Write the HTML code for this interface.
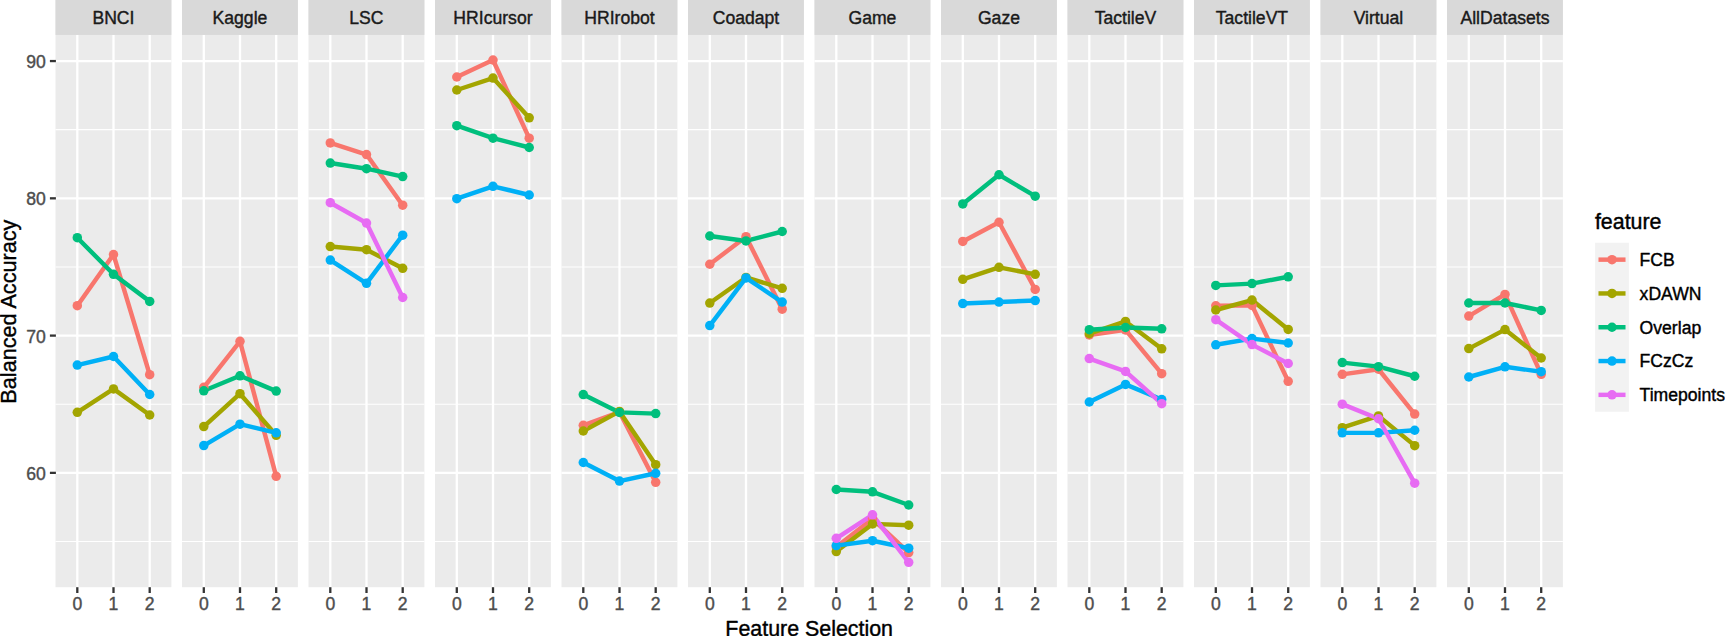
<!DOCTYPE html><html><head><meta charset="utf-8"><title>Balanced Accuracy by Feature Selection</title>
<style>html,body{margin:0;padding:0;background:#fff;overflow:hidden}svg{display:block}text{font-family:"Liberation Sans",Arial,Helvetica,sans-serif;stroke-width:0.4px;stroke-linejoin:round}.k{stroke:#000}.g{stroke:#4D4D4D}.s{stroke:#1A1A1A}</style></head><body>
<svg width="1725" height="636" viewBox="0 0 1725 636">
<rect width="1725" height="636" fill="#fff"/>
<g>
<rect x="55.50" y="0" width="115.9" height="587.20" fill="#EBEBEB"/>
<line x1="55.50" x2="171.40" y1="541.50" y2="541.50" stroke="#fff" stroke-width="1.15"/>
<line x1="55.50" x2="171.40" y1="404.24" y2="404.24" stroke="#fff" stroke-width="1.15"/>
<line x1="55.50" x2="171.40" y1="266.97" y2="266.97" stroke="#fff" stroke-width="1.15"/>
<line x1="55.50" x2="171.40" y1="129.69" y2="129.69" stroke="#fff" stroke-width="1.15"/>
<line x1="55.50" x2="171.40" y1="472.87" y2="472.87" stroke="#fff" stroke-width="2.3"/>
<line x1="55.50" x2="171.40" y1="335.60" y2="335.60" stroke="#fff" stroke-width="2.3"/>
<line x1="55.50" x2="171.40" y1="198.33" y2="198.33" stroke="#fff" stroke-width="2.3"/>
<line x1="55.50" x2="171.40" y1="61.06" y2="61.06" stroke="#fff" stroke-width="2.3"/>
<line x1="77.30" x2="77.30" y1="34.9" y2="587.2" stroke="#fff" stroke-width="2.3"/>
<line x1="77.30" x2="77.30" y1="587.2" y2="593.00" stroke="#333" stroke-width="2.3"/>
<text x="77.30" y="609.9" font-size="17.6" class="g" fill="#4D4D4D" text-anchor="middle">0</text>
<line x1="113.50" x2="113.50" y1="34.9" y2="587.2" stroke="#fff" stroke-width="2.3"/>
<line x1="113.50" x2="113.50" y1="587.2" y2="593.00" stroke="#333" stroke-width="2.3"/>
<text x="113.50" y="609.9" font-size="17.6" class="g" fill="#4D4D4D" text-anchor="middle">1</text>
<line x1="149.70" x2="149.70" y1="34.9" y2="587.2" stroke="#fff" stroke-width="2.3"/>
<line x1="149.70" x2="149.70" y1="587.2" y2="593.00" stroke="#333" stroke-width="2.3"/>
<text x="149.70" y="609.9" font-size="17.6" class="g" fill="#4D4D4D" text-anchor="middle">2</text>
<polyline points="77.30,305.70 113.50,254.50 149.70,374.70" fill="none" stroke="#F8766D" stroke-width="4.45" stroke-linejoin="round" stroke-linecap="butt"/>
<polyline points="77.30,412.30 113.50,388.90 149.70,415.00" fill="none" stroke="#A3A500" stroke-width="4.45" stroke-linejoin="round" stroke-linecap="butt"/>
<polyline points="77.30,237.70 113.50,274.30 149.70,301.40" fill="none" stroke="#00BF7D" stroke-width="4.45" stroke-linejoin="round" stroke-linecap="butt"/>
<polyline points="77.30,365.10 113.50,356.50 149.70,394.50" fill="none" stroke="#00B0F6" stroke-width="4.45" stroke-linejoin="round" stroke-linecap="butt"/>
<circle cx="77.30" cy="305.70" r="4.75" fill="#F8766D"/>
<circle cx="113.50" cy="254.50" r="4.75" fill="#F8766D"/>
<circle cx="149.70" cy="374.70" r="4.75" fill="#F8766D"/>
<circle cx="77.30" cy="412.30" r="4.75" fill="#A3A500"/>
<circle cx="113.50" cy="388.90" r="4.75" fill="#A3A500"/>
<circle cx="149.70" cy="415.00" r="4.75" fill="#A3A500"/>
<circle cx="77.30" cy="237.70" r="4.75" fill="#00BF7D"/>
<circle cx="113.50" cy="274.30" r="4.75" fill="#00BF7D"/>
<circle cx="149.70" cy="301.40" r="4.75" fill="#00BF7D"/>
<circle cx="77.30" cy="365.10" r="4.75" fill="#00B0F6"/>
<circle cx="113.50" cy="356.50" r="4.75" fill="#00B0F6"/>
<circle cx="149.70" cy="394.50" r="4.75" fill="#00B0F6"/>
<rect x="55.50" y="-2" width="115.9" height="36.9" fill="#D9D9D9"/>
<text x="113.45" y="23.9" font-size="17.6" class="s" fill="#1A1A1A" text-anchor="middle">BNCI</text>
</g>
<g>
<rect x="182.00" y="0" width="115.9" height="587.20" fill="#EBEBEB"/>
<line x1="182.00" x2="297.90" y1="541.50" y2="541.50" stroke="#fff" stroke-width="1.15"/>
<line x1="182.00" x2="297.90" y1="404.24" y2="404.24" stroke="#fff" stroke-width="1.15"/>
<line x1="182.00" x2="297.90" y1="266.97" y2="266.97" stroke="#fff" stroke-width="1.15"/>
<line x1="182.00" x2="297.90" y1="129.69" y2="129.69" stroke="#fff" stroke-width="1.15"/>
<line x1="182.00" x2="297.90" y1="472.87" y2="472.87" stroke="#fff" stroke-width="2.3"/>
<line x1="182.00" x2="297.90" y1="335.60" y2="335.60" stroke="#fff" stroke-width="2.3"/>
<line x1="182.00" x2="297.90" y1="198.33" y2="198.33" stroke="#fff" stroke-width="2.3"/>
<line x1="182.00" x2="297.90" y1="61.06" y2="61.06" stroke="#fff" stroke-width="2.3"/>
<line x1="203.80" x2="203.80" y1="34.9" y2="587.2" stroke="#fff" stroke-width="2.3"/>
<line x1="203.80" x2="203.80" y1="587.2" y2="593.00" stroke="#333" stroke-width="2.3"/>
<text x="203.80" y="609.9" font-size="17.6" class="g" fill="#4D4D4D" text-anchor="middle">0</text>
<line x1="240.00" x2="240.00" y1="34.9" y2="587.2" stroke="#fff" stroke-width="2.3"/>
<line x1="240.00" x2="240.00" y1="587.2" y2="593.00" stroke="#333" stroke-width="2.3"/>
<text x="240.00" y="609.9" font-size="17.6" class="g" fill="#4D4D4D" text-anchor="middle">1</text>
<line x1="276.20" x2="276.20" y1="34.9" y2="587.2" stroke="#fff" stroke-width="2.3"/>
<line x1="276.20" x2="276.20" y1="587.2" y2="593.00" stroke="#333" stroke-width="2.3"/>
<text x="276.20" y="609.9" font-size="17.6" class="g" fill="#4D4D4D" text-anchor="middle">2</text>
<polyline points="203.80,387.30 240.00,341.35 276.20,476.30" fill="none" stroke="#F8766D" stroke-width="4.45" stroke-linejoin="round" stroke-linecap="butt"/>
<polyline points="203.80,426.60 240.00,393.70 276.20,435.30" fill="none" stroke="#A3A500" stroke-width="4.45" stroke-linejoin="round" stroke-linecap="butt"/>
<polyline points="203.80,390.80 240.00,375.80 276.20,391.10" fill="none" stroke="#00BF7D" stroke-width="4.45" stroke-linejoin="round" stroke-linecap="butt"/>
<polyline points="203.80,445.60 240.00,424.20 276.20,432.80" fill="none" stroke="#00B0F6" stroke-width="4.45" stroke-linejoin="round" stroke-linecap="butt"/>
<circle cx="203.80" cy="387.30" r="4.75" fill="#F8766D"/>
<circle cx="240.00" cy="341.35" r="4.75" fill="#F8766D"/>
<circle cx="276.20" cy="476.30" r="4.75" fill="#F8766D"/>
<circle cx="203.80" cy="426.60" r="4.75" fill="#A3A500"/>
<circle cx="240.00" cy="393.70" r="4.75" fill="#A3A500"/>
<circle cx="276.20" cy="435.30" r="4.75" fill="#A3A500"/>
<circle cx="203.80" cy="390.80" r="4.75" fill="#00BF7D"/>
<circle cx="240.00" cy="375.80" r="4.75" fill="#00BF7D"/>
<circle cx="276.20" cy="391.10" r="4.75" fill="#00BF7D"/>
<circle cx="203.80" cy="445.60" r="4.75" fill="#00B0F6"/>
<circle cx="240.00" cy="424.20" r="4.75" fill="#00B0F6"/>
<circle cx="276.20" cy="432.80" r="4.75" fill="#00B0F6"/>
<rect x="182.00" y="-2" width="115.9" height="36.9" fill="#D9D9D9"/>
<text x="239.95" y="23.9" font-size="17.6" class="s" fill="#1A1A1A" text-anchor="middle">Kaggle</text>
</g>
<g>
<rect x="308.50" y="0" width="115.9" height="587.20" fill="#EBEBEB"/>
<line x1="308.50" x2="424.40" y1="541.50" y2="541.50" stroke="#fff" stroke-width="1.15"/>
<line x1="308.50" x2="424.40" y1="404.24" y2="404.24" stroke="#fff" stroke-width="1.15"/>
<line x1="308.50" x2="424.40" y1="266.97" y2="266.97" stroke="#fff" stroke-width="1.15"/>
<line x1="308.50" x2="424.40" y1="129.69" y2="129.69" stroke="#fff" stroke-width="1.15"/>
<line x1="308.50" x2="424.40" y1="472.87" y2="472.87" stroke="#fff" stroke-width="2.3"/>
<line x1="308.50" x2="424.40" y1="335.60" y2="335.60" stroke="#fff" stroke-width="2.3"/>
<line x1="308.50" x2="424.40" y1="198.33" y2="198.33" stroke="#fff" stroke-width="2.3"/>
<line x1="308.50" x2="424.40" y1="61.06" y2="61.06" stroke="#fff" stroke-width="2.3"/>
<line x1="330.30" x2="330.30" y1="34.9" y2="587.2" stroke="#fff" stroke-width="2.3"/>
<line x1="330.30" x2="330.30" y1="587.2" y2="593.00" stroke="#333" stroke-width="2.3"/>
<text x="330.30" y="609.9" font-size="17.6" class="g" fill="#4D4D4D" text-anchor="middle">0</text>
<line x1="366.50" x2="366.50" y1="34.9" y2="587.2" stroke="#fff" stroke-width="2.3"/>
<line x1="366.50" x2="366.50" y1="587.2" y2="593.00" stroke="#333" stroke-width="2.3"/>
<text x="366.50" y="609.9" font-size="17.6" class="g" fill="#4D4D4D" text-anchor="middle">1</text>
<line x1="402.70" x2="402.70" y1="34.9" y2="587.2" stroke="#fff" stroke-width="2.3"/>
<line x1="402.70" x2="402.70" y1="587.2" y2="593.00" stroke="#333" stroke-width="2.3"/>
<text x="402.70" y="609.9" font-size="17.6" class="g" fill="#4D4D4D" text-anchor="middle">2</text>
<polyline points="330.30,142.95 366.50,154.56 402.70,205.20" fill="none" stroke="#F8766D" stroke-width="4.45" stroke-linejoin="round" stroke-linecap="butt"/>
<polyline points="330.30,246.55 366.50,249.70 402.70,268.30" fill="none" stroke="#A3A500" stroke-width="4.45" stroke-linejoin="round" stroke-linecap="butt"/>
<polyline points="330.30,163.05 366.50,168.70 402.70,176.60" fill="none" stroke="#00BF7D" stroke-width="4.45" stroke-linejoin="round" stroke-linecap="butt"/>
<polyline points="330.30,260.10 366.50,283.30 402.70,235.20" fill="none" stroke="#00B0F6" stroke-width="4.45" stroke-linejoin="round" stroke-linecap="butt"/>
<polyline points="330.30,202.70 366.50,223.05 402.70,297.50" fill="none" stroke="#E76BF3" stroke-width="4.45" stroke-linejoin="round" stroke-linecap="butt"/>
<circle cx="330.30" cy="142.95" r="4.75" fill="#F8766D"/>
<circle cx="366.50" cy="154.56" r="4.75" fill="#F8766D"/>
<circle cx="402.70" cy="205.20" r="4.75" fill="#F8766D"/>
<circle cx="330.30" cy="246.55" r="4.75" fill="#A3A500"/>
<circle cx="366.50" cy="249.70" r="4.75" fill="#A3A500"/>
<circle cx="402.70" cy="268.30" r="4.75" fill="#A3A500"/>
<circle cx="330.30" cy="163.05" r="4.75" fill="#00BF7D"/>
<circle cx="366.50" cy="168.70" r="4.75" fill="#00BF7D"/>
<circle cx="402.70" cy="176.60" r="4.75" fill="#00BF7D"/>
<circle cx="330.30" cy="260.10" r="4.75" fill="#00B0F6"/>
<circle cx="366.50" cy="283.30" r="4.75" fill="#00B0F6"/>
<circle cx="402.70" cy="235.20" r="4.75" fill="#00B0F6"/>
<circle cx="330.30" cy="202.70" r="4.75" fill="#E76BF3"/>
<circle cx="366.50" cy="223.05" r="4.75" fill="#E76BF3"/>
<circle cx="402.70" cy="297.50" r="4.75" fill="#E76BF3"/>
<rect x="308.50" y="-2" width="115.9" height="36.9" fill="#D9D9D9"/>
<text x="366.45" y="23.9" font-size="17.6" class="s" fill="#1A1A1A" text-anchor="middle">LSC</text>
</g>
<g>
<rect x="435.00" y="0" width="115.9" height="587.20" fill="#EBEBEB"/>
<line x1="435.00" x2="550.90" y1="541.50" y2="541.50" stroke="#fff" stroke-width="1.15"/>
<line x1="435.00" x2="550.90" y1="404.24" y2="404.24" stroke="#fff" stroke-width="1.15"/>
<line x1="435.00" x2="550.90" y1="266.97" y2="266.97" stroke="#fff" stroke-width="1.15"/>
<line x1="435.00" x2="550.90" y1="129.69" y2="129.69" stroke="#fff" stroke-width="1.15"/>
<line x1="435.00" x2="550.90" y1="472.87" y2="472.87" stroke="#fff" stroke-width="2.3"/>
<line x1="435.00" x2="550.90" y1="335.60" y2="335.60" stroke="#fff" stroke-width="2.3"/>
<line x1="435.00" x2="550.90" y1="198.33" y2="198.33" stroke="#fff" stroke-width="2.3"/>
<line x1="435.00" x2="550.90" y1="61.06" y2="61.06" stroke="#fff" stroke-width="2.3"/>
<line x1="456.80" x2="456.80" y1="34.9" y2="587.2" stroke="#fff" stroke-width="2.3"/>
<line x1="456.80" x2="456.80" y1="587.2" y2="593.00" stroke="#333" stroke-width="2.3"/>
<text x="456.80" y="609.9" font-size="17.6" class="g" fill="#4D4D4D" text-anchor="middle">0</text>
<line x1="493.00" x2="493.00" y1="34.9" y2="587.2" stroke="#fff" stroke-width="2.3"/>
<line x1="493.00" x2="493.00" y1="587.2" y2="593.00" stroke="#333" stroke-width="2.3"/>
<text x="493.00" y="609.9" font-size="17.6" class="g" fill="#4D4D4D" text-anchor="middle">1</text>
<line x1="529.20" x2="529.20" y1="34.9" y2="587.2" stroke="#fff" stroke-width="2.3"/>
<line x1="529.20" x2="529.20" y1="587.2" y2="593.00" stroke="#333" stroke-width="2.3"/>
<text x="529.20" y="609.9" font-size="17.6" class="g" fill="#4D4D4D" text-anchor="middle">2</text>
<polyline points="456.80,77.00 493.00,60.00 529.20,138.15" fill="none" stroke="#F8766D" stroke-width="4.45" stroke-linejoin="round" stroke-linecap="butt"/>
<polyline points="456.80,90.00 493.00,78.10 529.20,117.80" fill="none" stroke="#A3A500" stroke-width="4.45" stroke-linejoin="round" stroke-linecap="butt"/>
<polyline points="456.80,125.70 493.00,138.15 529.20,147.50" fill="none" stroke="#00BF7D" stroke-width="4.45" stroke-linejoin="round" stroke-linecap="butt"/>
<polyline points="456.80,198.70 493.00,186.30 529.20,195.00" fill="none" stroke="#00B0F6" stroke-width="4.45" stroke-linejoin="round" stroke-linecap="butt"/>
<circle cx="456.80" cy="77.00" r="4.75" fill="#F8766D"/>
<circle cx="493.00" cy="60.00" r="4.75" fill="#F8766D"/>
<circle cx="529.20" cy="138.15" r="4.75" fill="#F8766D"/>
<circle cx="456.80" cy="90.00" r="4.75" fill="#A3A500"/>
<circle cx="493.00" cy="78.10" r="4.75" fill="#A3A500"/>
<circle cx="529.20" cy="117.80" r="4.75" fill="#A3A500"/>
<circle cx="456.80" cy="125.70" r="4.75" fill="#00BF7D"/>
<circle cx="493.00" cy="138.15" r="4.75" fill="#00BF7D"/>
<circle cx="529.20" cy="147.50" r="4.75" fill="#00BF7D"/>
<circle cx="456.80" cy="198.70" r="4.75" fill="#00B0F6"/>
<circle cx="493.00" cy="186.30" r="4.75" fill="#00B0F6"/>
<circle cx="529.20" cy="195.00" r="4.75" fill="#00B0F6"/>
<rect x="435.00" y="-2" width="115.9" height="36.9" fill="#D9D9D9"/>
<text x="492.95" y="23.9" font-size="17.6" class="s" fill="#1A1A1A" text-anchor="middle">HRIcursor</text>
</g>
<g>
<rect x="561.50" y="0" width="115.9" height="587.20" fill="#EBEBEB"/>
<line x1="561.50" x2="677.40" y1="541.50" y2="541.50" stroke="#fff" stroke-width="1.15"/>
<line x1="561.50" x2="677.40" y1="404.24" y2="404.24" stroke="#fff" stroke-width="1.15"/>
<line x1="561.50" x2="677.40" y1="266.97" y2="266.97" stroke="#fff" stroke-width="1.15"/>
<line x1="561.50" x2="677.40" y1="129.69" y2="129.69" stroke="#fff" stroke-width="1.15"/>
<line x1="561.50" x2="677.40" y1="472.87" y2="472.87" stroke="#fff" stroke-width="2.3"/>
<line x1="561.50" x2="677.40" y1="335.60" y2="335.60" stroke="#fff" stroke-width="2.3"/>
<line x1="561.50" x2="677.40" y1="198.33" y2="198.33" stroke="#fff" stroke-width="2.3"/>
<line x1="561.50" x2="677.40" y1="61.06" y2="61.06" stroke="#fff" stroke-width="2.3"/>
<line x1="583.30" x2="583.30" y1="34.9" y2="587.2" stroke="#fff" stroke-width="2.3"/>
<line x1="583.30" x2="583.30" y1="587.2" y2="593.00" stroke="#333" stroke-width="2.3"/>
<text x="583.30" y="609.9" font-size="17.6" class="g" fill="#4D4D4D" text-anchor="middle">0</text>
<line x1="619.50" x2="619.50" y1="34.9" y2="587.2" stroke="#fff" stroke-width="2.3"/>
<line x1="619.50" x2="619.50" y1="587.2" y2="593.00" stroke="#333" stroke-width="2.3"/>
<text x="619.50" y="609.9" font-size="17.6" class="g" fill="#4D4D4D" text-anchor="middle">1</text>
<line x1="655.70" x2="655.70" y1="34.9" y2="587.2" stroke="#fff" stroke-width="2.3"/>
<line x1="655.70" x2="655.70" y1="587.2" y2="593.00" stroke="#333" stroke-width="2.3"/>
<text x="655.70" y="609.9" font-size="17.6" class="g" fill="#4D4D4D" text-anchor="middle">2</text>
<polyline points="583.30,425.30 619.50,412.00 655.70,482.30" fill="none" stroke="#F8766D" stroke-width="4.45" stroke-linejoin="round" stroke-linecap="butt"/>
<polyline points="583.30,431.00 619.50,411.40 655.70,464.70" fill="none" stroke="#A3A500" stroke-width="4.45" stroke-linejoin="round" stroke-linecap="butt"/>
<polyline points="583.30,394.60 619.50,412.40 655.70,413.60" fill="none" stroke="#00BF7D" stroke-width="4.45" stroke-linejoin="round" stroke-linecap="butt"/>
<polyline points="583.30,462.50 619.50,481.10 655.70,473.30" fill="none" stroke="#00B0F6" stroke-width="4.45" stroke-linejoin="round" stroke-linecap="butt"/>
<circle cx="583.30" cy="425.30" r="4.75" fill="#F8766D"/>
<circle cx="619.50" cy="412.00" r="4.75" fill="#F8766D"/>
<circle cx="655.70" cy="482.30" r="4.75" fill="#F8766D"/>
<circle cx="583.30" cy="431.00" r="4.75" fill="#A3A500"/>
<circle cx="619.50" cy="411.40" r="4.75" fill="#A3A500"/>
<circle cx="655.70" cy="464.70" r="4.75" fill="#A3A500"/>
<circle cx="583.30" cy="394.60" r="4.75" fill="#00BF7D"/>
<circle cx="619.50" cy="412.40" r="4.75" fill="#00BF7D"/>
<circle cx="655.70" cy="413.60" r="4.75" fill="#00BF7D"/>
<circle cx="583.30" cy="462.50" r="4.75" fill="#00B0F6"/>
<circle cx="619.50" cy="481.10" r="4.75" fill="#00B0F6"/>
<circle cx="655.70" cy="473.30" r="4.75" fill="#00B0F6"/>
<rect x="561.50" y="-2" width="115.9" height="36.9" fill="#D9D9D9"/>
<text x="619.45" y="23.9" font-size="17.6" class="s" fill="#1A1A1A" text-anchor="middle">HRIrobot</text>
</g>
<g>
<rect x="688.00" y="0" width="115.9" height="587.20" fill="#EBEBEB"/>
<line x1="688.00" x2="803.90" y1="541.50" y2="541.50" stroke="#fff" stroke-width="1.15"/>
<line x1="688.00" x2="803.90" y1="404.24" y2="404.24" stroke="#fff" stroke-width="1.15"/>
<line x1="688.00" x2="803.90" y1="266.97" y2="266.97" stroke="#fff" stroke-width="1.15"/>
<line x1="688.00" x2="803.90" y1="129.69" y2="129.69" stroke="#fff" stroke-width="1.15"/>
<line x1="688.00" x2="803.90" y1="472.87" y2="472.87" stroke="#fff" stroke-width="2.3"/>
<line x1="688.00" x2="803.90" y1="335.60" y2="335.60" stroke="#fff" stroke-width="2.3"/>
<line x1="688.00" x2="803.90" y1="198.33" y2="198.33" stroke="#fff" stroke-width="2.3"/>
<line x1="688.00" x2="803.90" y1="61.06" y2="61.06" stroke="#fff" stroke-width="2.3"/>
<line x1="709.80" x2="709.80" y1="34.9" y2="587.2" stroke="#fff" stroke-width="2.3"/>
<line x1="709.80" x2="709.80" y1="587.2" y2="593.00" stroke="#333" stroke-width="2.3"/>
<text x="709.80" y="609.9" font-size="17.6" class="g" fill="#4D4D4D" text-anchor="middle">0</text>
<line x1="746.00" x2="746.00" y1="34.9" y2="587.2" stroke="#fff" stroke-width="2.3"/>
<line x1="746.00" x2="746.00" y1="587.2" y2="593.00" stroke="#333" stroke-width="2.3"/>
<text x="746.00" y="609.9" font-size="17.6" class="g" fill="#4D4D4D" text-anchor="middle">1</text>
<line x1="782.20" x2="782.20" y1="34.9" y2="587.2" stroke="#fff" stroke-width="2.3"/>
<line x1="782.20" x2="782.20" y1="587.2" y2="593.00" stroke="#333" stroke-width="2.3"/>
<text x="782.20" y="609.9" font-size="17.6" class="g" fill="#4D4D4D" text-anchor="middle">2</text>
<polyline points="709.80,264.25 746.00,236.65 782.20,309.15" fill="none" stroke="#F8766D" stroke-width="4.45" stroke-linejoin="round" stroke-linecap="butt"/>
<polyline points="709.80,303.05 746.00,277.45 782.20,288.35" fill="none" stroke="#A3A500" stroke-width="4.45" stroke-linejoin="round" stroke-linecap="butt"/>
<polyline points="709.80,236.00 746.00,240.95 782.20,231.50" fill="none" stroke="#00BF7D" stroke-width="4.45" stroke-linejoin="round" stroke-linecap="butt"/>
<polyline points="709.80,325.55 746.00,277.90 782.20,302.05" fill="none" stroke="#00B0F6" stroke-width="4.45" stroke-linejoin="round" stroke-linecap="butt"/>
<circle cx="709.80" cy="264.25" r="4.75" fill="#F8766D"/>
<circle cx="746.00" cy="236.65" r="4.75" fill="#F8766D"/>
<circle cx="782.20" cy="309.15" r="4.75" fill="#F8766D"/>
<circle cx="709.80" cy="303.05" r="4.75" fill="#A3A500"/>
<circle cx="746.00" cy="277.45" r="4.75" fill="#A3A500"/>
<circle cx="782.20" cy="288.35" r="4.75" fill="#A3A500"/>
<circle cx="709.80" cy="236.00" r="4.75" fill="#00BF7D"/>
<circle cx="746.00" cy="240.95" r="4.75" fill="#00BF7D"/>
<circle cx="782.20" cy="231.50" r="4.75" fill="#00BF7D"/>
<circle cx="709.80" cy="325.55" r="4.75" fill="#00B0F6"/>
<circle cx="746.00" cy="277.90" r="4.75" fill="#00B0F6"/>
<circle cx="782.20" cy="302.05" r="4.75" fill="#00B0F6"/>
<rect x="688.00" y="-2" width="115.9" height="36.9" fill="#D9D9D9"/>
<text x="745.95" y="23.9" font-size="17.6" class="s" fill="#1A1A1A" text-anchor="middle">Coadapt</text>
</g>
<g>
<rect x="814.50" y="0" width="115.9" height="587.20" fill="#EBEBEB"/>
<line x1="814.50" x2="930.40" y1="541.50" y2="541.50" stroke="#fff" stroke-width="1.15"/>
<line x1="814.50" x2="930.40" y1="404.24" y2="404.24" stroke="#fff" stroke-width="1.15"/>
<line x1="814.50" x2="930.40" y1="266.97" y2="266.97" stroke="#fff" stroke-width="1.15"/>
<line x1="814.50" x2="930.40" y1="129.69" y2="129.69" stroke="#fff" stroke-width="1.15"/>
<line x1="814.50" x2="930.40" y1="472.87" y2="472.87" stroke="#fff" stroke-width="2.3"/>
<line x1="814.50" x2="930.40" y1="335.60" y2="335.60" stroke="#fff" stroke-width="2.3"/>
<line x1="814.50" x2="930.40" y1="198.33" y2="198.33" stroke="#fff" stroke-width="2.3"/>
<line x1="814.50" x2="930.40" y1="61.06" y2="61.06" stroke="#fff" stroke-width="2.3"/>
<line x1="836.30" x2="836.30" y1="34.9" y2="587.2" stroke="#fff" stroke-width="2.3"/>
<line x1="836.30" x2="836.30" y1="587.2" y2="593.00" stroke="#333" stroke-width="2.3"/>
<text x="836.30" y="609.9" font-size="17.6" class="g" fill="#4D4D4D" text-anchor="middle">0</text>
<line x1="872.50" x2="872.50" y1="34.9" y2="587.2" stroke="#fff" stroke-width="2.3"/>
<line x1="872.50" x2="872.50" y1="587.2" y2="593.00" stroke="#333" stroke-width="2.3"/>
<text x="872.50" y="609.9" font-size="17.6" class="g" fill="#4D4D4D" text-anchor="middle">1</text>
<line x1="908.70" x2="908.70" y1="34.9" y2="587.2" stroke="#fff" stroke-width="2.3"/>
<line x1="908.70" x2="908.70" y1="587.2" y2="593.00" stroke="#333" stroke-width="2.3"/>
<text x="908.70" y="609.9" font-size="17.6" class="g" fill="#4D4D4D" text-anchor="middle">2</text>
<polyline points="836.30,546.90 872.50,518.80 908.70,552.60" fill="none" stroke="#F8766D" stroke-width="4.45" stroke-linejoin="round" stroke-linecap="butt"/>
<polyline points="836.30,551.60 872.50,523.90 908.70,525.20" fill="none" stroke="#A3A500" stroke-width="4.45" stroke-linejoin="round" stroke-linecap="butt"/>
<polyline points="836.30,489.50 872.50,491.80 908.70,505.00" fill="none" stroke="#00BF7D" stroke-width="4.45" stroke-linejoin="round" stroke-linecap="butt"/>
<polyline points="836.30,545.60 872.50,540.70 908.70,548.20" fill="none" stroke="#00B0F6" stroke-width="4.45" stroke-linejoin="round" stroke-linecap="butt"/>
<polyline points="836.30,538.30 872.50,514.80 908.70,562.30" fill="none" stroke="#E76BF3" stroke-width="4.45" stroke-linejoin="round" stroke-linecap="butt"/>
<circle cx="836.30" cy="546.90" r="4.75" fill="#F8766D"/>
<circle cx="872.50" cy="518.80" r="4.75" fill="#F8766D"/>
<circle cx="908.70" cy="552.60" r="4.75" fill="#F8766D"/>
<circle cx="836.30" cy="551.60" r="4.75" fill="#A3A500"/>
<circle cx="872.50" cy="523.90" r="4.75" fill="#A3A500"/>
<circle cx="908.70" cy="525.20" r="4.75" fill="#A3A500"/>
<circle cx="836.30" cy="489.50" r="4.75" fill="#00BF7D"/>
<circle cx="872.50" cy="491.80" r="4.75" fill="#00BF7D"/>
<circle cx="908.70" cy="505.00" r="4.75" fill="#00BF7D"/>
<circle cx="836.30" cy="545.60" r="4.75" fill="#00B0F6"/>
<circle cx="872.50" cy="540.70" r="4.75" fill="#00B0F6"/>
<circle cx="908.70" cy="548.20" r="4.75" fill="#00B0F6"/>
<circle cx="836.30" cy="538.30" r="4.75" fill="#E76BF3"/>
<circle cx="872.50" cy="514.80" r="4.75" fill="#E76BF3"/>
<circle cx="908.70" cy="562.30" r="4.75" fill="#E76BF3"/>
<rect x="814.50" y="-2" width="115.9" height="36.9" fill="#D9D9D9"/>
<text x="872.45" y="23.9" font-size="17.6" class="s" fill="#1A1A1A" text-anchor="middle">Game</text>
</g>
<g>
<rect x="941.00" y="0" width="115.9" height="587.20" fill="#EBEBEB"/>
<line x1="941.00" x2="1056.90" y1="541.50" y2="541.50" stroke="#fff" stroke-width="1.15"/>
<line x1="941.00" x2="1056.90" y1="404.24" y2="404.24" stroke="#fff" stroke-width="1.15"/>
<line x1="941.00" x2="1056.90" y1="266.97" y2="266.97" stroke="#fff" stroke-width="1.15"/>
<line x1="941.00" x2="1056.90" y1="129.69" y2="129.69" stroke="#fff" stroke-width="1.15"/>
<line x1="941.00" x2="1056.90" y1="472.87" y2="472.87" stroke="#fff" stroke-width="2.3"/>
<line x1="941.00" x2="1056.90" y1="335.60" y2="335.60" stroke="#fff" stroke-width="2.3"/>
<line x1="941.00" x2="1056.90" y1="198.33" y2="198.33" stroke="#fff" stroke-width="2.3"/>
<line x1="941.00" x2="1056.90" y1="61.06" y2="61.06" stroke="#fff" stroke-width="2.3"/>
<line x1="962.80" x2="962.80" y1="34.9" y2="587.2" stroke="#fff" stroke-width="2.3"/>
<line x1="962.80" x2="962.80" y1="587.2" y2="593.00" stroke="#333" stroke-width="2.3"/>
<text x="962.80" y="609.9" font-size="17.6" class="g" fill="#4D4D4D" text-anchor="middle">0</text>
<line x1="999.00" x2="999.00" y1="34.9" y2="587.2" stroke="#fff" stroke-width="2.3"/>
<line x1="999.00" x2="999.00" y1="587.2" y2="593.00" stroke="#333" stroke-width="2.3"/>
<text x="999.00" y="609.9" font-size="17.6" class="g" fill="#4D4D4D" text-anchor="middle">1</text>
<line x1="1035.20" x2="1035.20" y1="34.9" y2="587.2" stroke="#fff" stroke-width="2.3"/>
<line x1="1035.20" x2="1035.20" y1="587.2" y2="593.00" stroke="#333" stroke-width="2.3"/>
<text x="1035.20" y="609.9" font-size="17.6" class="g" fill="#4D4D4D" text-anchor="middle">2</text>
<polyline points="962.80,241.45 999.00,222.25 1035.20,289.45" fill="none" stroke="#F8766D" stroke-width="4.45" stroke-linejoin="round" stroke-linecap="butt"/>
<polyline points="962.80,279.35 999.00,267.35 1035.20,274.35" fill="none" stroke="#A3A500" stroke-width="4.45" stroke-linejoin="round" stroke-linecap="butt"/>
<polyline points="962.80,203.95 999.00,174.75 1035.20,196.15" fill="none" stroke="#00BF7D" stroke-width="4.45" stroke-linejoin="round" stroke-linecap="butt"/>
<polyline points="962.80,303.55 999.00,302.05 1035.20,300.55" fill="none" stroke="#00B0F6" stroke-width="4.45" stroke-linejoin="round" stroke-linecap="butt"/>
<circle cx="962.80" cy="241.45" r="4.75" fill="#F8766D"/>
<circle cx="999.00" cy="222.25" r="4.75" fill="#F8766D"/>
<circle cx="1035.20" cy="289.45" r="4.75" fill="#F8766D"/>
<circle cx="962.80" cy="279.35" r="4.75" fill="#A3A500"/>
<circle cx="999.00" cy="267.35" r="4.75" fill="#A3A500"/>
<circle cx="1035.20" cy="274.35" r="4.75" fill="#A3A500"/>
<circle cx="962.80" cy="203.95" r="4.75" fill="#00BF7D"/>
<circle cx="999.00" cy="174.75" r="4.75" fill="#00BF7D"/>
<circle cx="1035.20" cy="196.15" r="4.75" fill="#00BF7D"/>
<circle cx="962.80" cy="303.55" r="4.75" fill="#00B0F6"/>
<circle cx="999.00" cy="302.05" r="4.75" fill="#00B0F6"/>
<circle cx="1035.20" cy="300.55" r="4.75" fill="#00B0F6"/>
<rect x="941.00" y="-2" width="115.9" height="36.9" fill="#D9D9D9"/>
<text x="998.95" y="23.9" font-size="17.6" class="s" fill="#1A1A1A" text-anchor="middle">Gaze</text>
</g>
<g>
<rect x="1067.50" y="0" width="115.9" height="587.20" fill="#EBEBEB"/>
<line x1="1067.50" x2="1183.40" y1="541.50" y2="541.50" stroke="#fff" stroke-width="1.15"/>
<line x1="1067.50" x2="1183.40" y1="404.24" y2="404.24" stroke="#fff" stroke-width="1.15"/>
<line x1="1067.50" x2="1183.40" y1="266.97" y2="266.97" stroke="#fff" stroke-width="1.15"/>
<line x1="1067.50" x2="1183.40" y1="129.69" y2="129.69" stroke="#fff" stroke-width="1.15"/>
<line x1="1067.50" x2="1183.40" y1="472.87" y2="472.87" stroke="#fff" stroke-width="2.3"/>
<line x1="1067.50" x2="1183.40" y1="335.60" y2="335.60" stroke="#fff" stroke-width="2.3"/>
<line x1="1067.50" x2="1183.40" y1="198.33" y2="198.33" stroke="#fff" stroke-width="2.3"/>
<line x1="1067.50" x2="1183.40" y1="61.06" y2="61.06" stroke="#fff" stroke-width="2.3"/>
<line x1="1089.30" x2="1089.30" y1="34.9" y2="587.2" stroke="#fff" stroke-width="2.3"/>
<line x1="1089.30" x2="1089.30" y1="587.2" y2="593.00" stroke="#333" stroke-width="2.3"/>
<text x="1089.30" y="609.9" font-size="17.6" class="g" fill="#4D4D4D" text-anchor="middle">0</text>
<line x1="1125.50" x2="1125.50" y1="34.9" y2="587.2" stroke="#fff" stroke-width="2.3"/>
<line x1="1125.50" x2="1125.50" y1="587.2" y2="593.00" stroke="#333" stroke-width="2.3"/>
<text x="1125.50" y="609.9" font-size="17.6" class="g" fill="#4D4D4D" text-anchor="middle">1</text>
<line x1="1161.70" x2="1161.70" y1="34.9" y2="587.2" stroke="#fff" stroke-width="2.3"/>
<line x1="1161.70" x2="1161.70" y1="587.2" y2="593.00" stroke="#333" stroke-width="2.3"/>
<text x="1161.70" y="609.9" font-size="17.6" class="g" fill="#4D4D4D" text-anchor="middle">2</text>
<polyline points="1089.30,335.00 1125.50,329.90 1161.70,373.70" fill="none" stroke="#F8766D" stroke-width="4.45" stroke-linejoin="round" stroke-linecap="butt"/>
<polyline points="1089.30,333.70 1125.50,321.40 1161.70,348.80" fill="none" stroke="#A3A500" stroke-width="4.45" stroke-linejoin="round" stroke-linecap="butt"/>
<polyline points="1089.30,329.70 1125.50,327.50 1161.70,328.80" fill="none" stroke="#00BF7D" stroke-width="4.45" stroke-linejoin="round" stroke-linecap="butt"/>
<polyline points="1089.30,402.00 1125.50,384.40 1161.70,399.50" fill="none" stroke="#00B0F6" stroke-width="4.45" stroke-linejoin="round" stroke-linecap="butt"/>
<polyline points="1089.30,358.60 1125.50,371.40 1161.70,403.70" fill="none" stroke="#E76BF3" stroke-width="4.45" stroke-linejoin="round" stroke-linecap="butt"/>
<circle cx="1089.30" cy="335.00" r="4.75" fill="#F8766D"/>
<circle cx="1125.50" cy="329.90" r="4.75" fill="#F8766D"/>
<circle cx="1161.70" cy="373.70" r="4.75" fill="#F8766D"/>
<circle cx="1089.30" cy="333.70" r="4.75" fill="#A3A500"/>
<circle cx="1125.50" cy="321.40" r="4.75" fill="#A3A500"/>
<circle cx="1161.70" cy="348.80" r="4.75" fill="#A3A500"/>
<circle cx="1089.30" cy="329.70" r="4.75" fill="#00BF7D"/>
<circle cx="1125.50" cy="327.50" r="4.75" fill="#00BF7D"/>
<circle cx="1161.70" cy="328.80" r="4.75" fill="#00BF7D"/>
<circle cx="1089.30" cy="402.00" r="4.75" fill="#00B0F6"/>
<circle cx="1125.50" cy="384.40" r="4.75" fill="#00B0F6"/>
<circle cx="1161.70" cy="399.50" r="4.75" fill="#00B0F6"/>
<circle cx="1089.30" cy="358.60" r="4.75" fill="#E76BF3"/>
<circle cx="1125.50" cy="371.40" r="4.75" fill="#E76BF3"/>
<circle cx="1161.70" cy="403.70" r="4.75" fill="#E76BF3"/>
<rect x="1067.50" y="-2" width="115.9" height="36.9" fill="#D9D9D9"/>
<text x="1125.45" y="23.9" font-size="17.6" class="s" fill="#1A1A1A" text-anchor="middle">TactileV</text>
</g>
<g>
<rect x="1194.00" y="0" width="115.9" height="587.20" fill="#EBEBEB"/>
<line x1="1194.00" x2="1309.90" y1="541.50" y2="541.50" stroke="#fff" stroke-width="1.15"/>
<line x1="1194.00" x2="1309.90" y1="404.24" y2="404.24" stroke="#fff" stroke-width="1.15"/>
<line x1="1194.00" x2="1309.90" y1="266.97" y2="266.97" stroke="#fff" stroke-width="1.15"/>
<line x1="1194.00" x2="1309.90" y1="129.69" y2="129.69" stroke="#fff" stroke-width="1.15"/>
<line x1="1194.00" x2="1309.90" y1="472.87" y2="472.87" stroke="#fff" stroke-width="2.3"/>
<line x1="1194.00" x2="1309.90" y1="335.60" y2="335.60" stroke="#fff" stroke-width="2.3"/>
<line x1="1194.00" x2="1309.90" y1="198.33" y2="198.33" stroke="#fff" stroke-width="2.3"/>
<line x1="1194.00" x2="1309.90" y1="61.06" y2="61.06" stroke="#fff" stroke-width="2.3"/>
<line x1="1215.80" x2="1215.80" y1="34.9" y2="587.2" stroke="#fff" stroke-width="2.3"/>
<line x1="1215.80" x2="1215.80" y1="587.2" y2="593.00" stroke="#333" stroke-width="2.3"/>
<text x="1215.80" y="609.9" font-size="17.6" class="g" fill="#4D4D4D" text-anchor="middle">0</text>
<line x1="1252.00" x2="1252.00" y1="34.9" y2="587.2" stroke="#fff" stroke-width="2.3"/>
<line x1="1252.00" x2="1252.00" y1="587.2" y2="593.00" stroke="#333" stroke-width="2.3"/>
<text x="1252.00" y="609.9" font-size="17.6" class="g" fill="#4D4D4D" text-anchor="middle">1</text>
<line x1="1288.20" x2="1288.20" y1="34.9" y2="587.2" stroke="#fff" stroke-width="2.3"/>
<line x1="1288.20" x2="1288.20" y1="587.2" y2="593.00" stroke="#333" stroke-width="2.3"/>
<text x="1288.20" y="609.9" font-size="17.6" class="g" fill="#4D4D4D" text-anchor="middle">2</text>
<polyline points="1215.80,305.80 1252.00,305.40 1288.20,381.30" fill="none" stroke="#F8766D" stroke-width="4.45" stroke-linejoin="round" stroke-linecap="butt"/>
<polyline points="1215.80,310.00 1252.00,300.10 1288.20,329.40" fill="none" stroke="#A3A500" stroke-width="4.45" stroke-linejoin="round" stroke-linecap="butt"/>
<polyline points="1215.80,285.40 1252.00,283.60 1288.20,276.80" fill="none" stroke="#00BF7D" stroke-width="4.45" stroke-linejoin="round" stroke-linecap="butt"/>
<polyline points="1215.80,344.80 1252.00,338.60 1288.20,343.00" fill="none" stroke="#00B0F6" stroke-width="4.45" stroke-linejoin="round" stroke-linecap="butt"/>
<polyline points="1215.80,319.70 1252.00,344.60 1288.20,363.50" fill="none" stroke="#E76BF3" stroke-width="4.45" stroke-linejoin="round" stroke-linecap="butt"/>
<circle cx="1215.80" cy="305.80" r="4.75" fill="#F8766D"/>
<circle cx="1252.00" cy="305.40" r="4.75" fill="#F8766D"/>
<circle cx="1288.20" cy="381.30" r="4.75" fill="#F8766D"/>
<circle cx="1215.80" cy="310.00" r="4.75" fill="#A3A500"/>
<circle cx="1252.00" cy="300.10" r="4.75" fill="#A3A500"/>
<circle cx="1288.20" cy="329.40" r="4.75" fill="#A3A500"/>
<circle cx="1215.80" cy="285.40" r="4.75" fill="#00BF7D"/>
<circle cx="1252.00" cy="283.60" r="4.75" fill="#00BF7D"/>
<circle cx="1288.20" cy="276.80" r="4.75" fill="#00BF7D"/>
<circle cx="1215.80" cy="344.80" r="4.75" fill="#00B0F6"/>
<circle cx="1252.00" cy="338.60" r="4.75" fill="#00B0F6"/>
<circle cx="1288.20" cy="343.00" r="4.75" fill="#00B0F6"/>
<circle cx="1215.80" cy="319.70" r="4.75" fill="#E76BF3"/>
<circle cx="1252.00" cy="344.60" r="4.75" fill="#E76BF3"/>
<circle cx="1288.20" cy="363.50" r="4.75" fill="#E76BF3"/>
<rect x="1194.00" y="-2" width="115.9" height="36.9" fill="#D9D9D9"/>
<text x="1251.95" y="23.9" font-size="17.6" class="s" fill="#1A1A1A" text-anchor="middle">TactileVT</text>
</g>
<g>
<rect x="1320.50" y="0" width="115.9" height="587.20" fill="#EBEBEB"/>
<line x1="1320.50" x2="1436.40" y1="541.50" y2="541.50" stroke="#fff" stroke-width="1.15"/>
<line x1="1320.50" x2="1436.40" y1="404.24" y2="404.24" stroke="#fff" stroke-width="1.15"/>
<line x1="1320.50" x2="1436.40" y1="266.97" y2="266.97" stroke="#fff" stroke-width="1.15"/>
<line x1="1320.50" x2="1436.40" y1="129.69" y2="129.69" stroke="#fff" stroke-width="1.15"/>
<line x1="1320.50" x2="1436.40" y1="472.87" y2="472.87" stroke="#fff" stroke-width="2.3"/>
<line x1="1320.50" x2="1436.40" y1="335.60" y2="335.60" stroke="#fff" stroke-width="2.3"/>
<line x1="1320.50" x2="1436.40" y1="198.33" y2="198.33" stroke="#fff" stroke-width="2.3"/>
<line x1="1320.50" x2="1436.40" y1="61.06" y2="61.06" stroke="#fff" stroke-width="2.3"/>
<line x1="1342.30" x2="1342.30" y1="34.9" y2="587.2" stroke="#fff" stroke-width="2.3"/>
<line x1="1342.30" x2="1342.30" y1="587.2" y2="593.00" stroke="#333" stroke-width="2.3"/>
<text x="1342.30" y="609.9" font-size="17.6" class="g" fill="#4D4D4D" text-anchor="middle">0</text>
<line x1="1378.50" x2="1378.50" y1="34.9" y2="587.2" stroke="#fff" stroke-width="2.3"/>
<line x1="1378.50" x2="1378.50" y1="587.2" y2="593.00" stroke="#333" stroke-width="2.3"/>
<text x="1378.50" y="609.9" font-size="17.6" class="g" fill="#4D4D4D" text-anchor="middle">1</text>
<line x1="1414.70" x2="1414.70" y1="34.9" y2="587.2" stroke="#fff" stroke-width="2.3"/>
<line x1="1414.70" x2="1414.70" y1="587.2" y2="593.00" stroke="#333" stroke-width="2.3"/>
<text x="1414.70" y="609.9" font-size="17.6" class="g" fill="#4D4D4D" text-anchor="middle">2</text>
<polyline points="1342.30,374.35 1378.50,369.25 1414.70,414.05" fill="none" stroke="#F8766D" stroke-width="4.45" stroke-linejoin="round" stroke-linecap="butt"/>
<polyline points="1342.30,427.65 1378.50,415.90 1414.70,445.65" fill="none" stroke="#A3A500" stroke-width="4.45" stroke-linejoin="round" stroke-linecap="butt"/>
<polyline points="1342.30,362.60 1378.50,366.65 1414.70,376.25" fill="none" stroke="#00BF7D" stroke-width="4.45" stroke-linejoin="round" stroke-linecap="butt"/>
<polyline points="1342.30,432.85 1378.50,432.85 1414.70,430.25" fill="none" stroke="#00B0F6" stroke-width="4.45" stroke-linejoin="round" stroke-linecap="butt"/>
<polyline points="1342.30,404.15 1378.50,418.75 1414.70,483.15" fill="none" stroke="#E76BF3" stroke-width="4.45" stroke-linejoin="round" stroke-linecap="butt"/>
<circle cx="1342.30" cy="374.35" r="4.75" fill="#F8766D"/>
<circle cx="1378.50" cy="369.25" r="4.75" fill="#F8766D"/>
<circle cx="1414.70" cy="414.05" r="4.75" fill="#F8766D"/>
<circle cx="1342.30" cy="427.65" r="4.75" fill="#A3A500"/>
<circle cx="1378.50" cy="415.90" r="4.75" fill="#A3A500"/>
<circle cx="1414.70" cy="445.65" r="4.75" fill="#A3A500"/>
<circle cx="1342.30" cy="362.60" r="4.75" fill="#00BF7D"/>
<circle cx="1378.50" cy="366.65" r="4.75" fill="#00BF7D"/>
<circle cx="1414.70" cy="376.25" r="4.75" fill="#00BF7D"/>
<circle cx="1342.30" cy="432.85" r="4.75" fill="#00B0F6"/>
<circle cx="1378.50" cy="432.85" r="4.75" fill="#00B0F6"/>
<circle cx="1414.70" cy="430.25" r="4.75" fill="#00B0F6"/>
<circle cx="1342.30" cy="404.15" r="4.75" fill="#E76BF3"/>
<circle cx="1378.50" cy="418.75" r="4.75" fill="#E76BF3"/>
<circle cx="1414.70" cy="483.15" r="4.75" fill="#E76BF3"/>
<rect x="1320.50" y="-2" width="115.9" height="36.9" fill="#D9D9D9"/>
<text x="1378.45" y="23.9" font-size="17.6" class="s" fill="#1A1A1A" text-anchor="middle">Virtual</text>
</g>
<g>
<rect x="1447.00" y="0" width="115.9" height="587.20" fill="#EBEBEB"/>
<line x1="1447.00" x2="1562.90" y1="541.50" y2="541.50" stroke="#fff" stroke-width="1.15"/>
<line x1="1447.00" x2="1562.90" y1="404.24" y2="404.24" stroke="#fff" stroke-width="1.15"/>
<line x1="1447.00" x2="1562.90" y1="266.97" y2="266.97" stroke="#fff" stroke-width="1.15"/>
<line x1="1447.00" x2="1562.90" y1="129.69" y2="129.69" stroke="#fff" stroke-width="1.15"/>
<line x1="1447.00" x2="1562.90" y1="472.87" y2="472.87" stroke="#fff" stroke-width="2.3"/>
<line x1="1447.00" x2="1562.90" y1="335.60" y2="335.60" stroke="#fff" stroke-width="2.3"/>
<line x1="1447.00" x2="1562.90" y1="198.33" y2="198.33" stroke="#fff" stroke-width="2.3"/>
<line x1="1447.00" x2="1562.90" y1="61.06" y2="61.06" stroke="#fff" stroke-width="2.3"/>
<line x1="1468.80" x2="1468.80" y1="34.9" y2="587.2" stroke="#fff" stroke-width="2.3"/>
<line x1="1468.80" x2="1468.80" y1="587.2" y2="593.00" stroke="#333" stroke-width="2.3"/>
<text x="1468.80" y="609.9" font-size="17.6" class="g" fill="#4D4D4D" text-anchor="middle">0</text>
<line x1="1505.00" x2="1505.00" y1="34.9" y2="587.2" stroke="#fff" stroke-width="2.3"/>
<line x1="1505.00" x2="1505.00" y1="587.2" y2="593.00" stroke="#333" stroke-width="2.3"/>
<text x="1505.00" y="609.9" font-size="17.6" class="g" fill="#4D4D4D" text-anchor="middle">1</text>
<line x1="1541.20" x2="1541.20" y1="34.9" y2="587.2" stroke="#fff" stroke-width="2.3"/>
<line x1="1541.20" x2="1541.20" y1="587.2" y2="593.00" stroke="#333" stroke-width="2.3"/>
<text x="1541.20" y="609.9" font-size="17.6" class="g" fill="#4D4D4D" text-anchor="middle">2</text>
<polyline points="1468.80,316.10 1505.00,294.40 1541.20,374.35" fill="none" stroke="#F8766D" stroke-width="4.45" stroke-linejoin="round" stroke-linecap="butt"/>
<polyline points="1468.80,348.60 1505.00,329.60 1541.20,358.00" fill="none" stroke="#A3A500" stroke-width="4.45" stroke-linejoin="round" stroke-linecap="butt"/>
<polyline points="1468.80,303.00 1505.00,303.00 1541.20,310.40" fill="none" stroke="#00BF7D" stroke-width="4.45" stroke-linejoin="round" stroke-linecap="butt"/>
<polyline points="1468.80,377.00 1505.00,366.80 1541.20,371.70" fill="none" stroke="#00B0F6" stroke-width="4.45" stroke-linejoin="round" stroke-linecap="butt"/>
<circle cx="1468.80" cy="316.10" r="4.75" fill="#F8766D"/>
<circle cx="1505.00" cy="294.40" r="4.75" fill="#F8766D"/>
<circle cx="1541.20" cy="374.35" r="4.75" fill="#F8766D"/>
<circle cx="1468.80" cy="348.60" r="4.75" fill="#A3A500"/>
<circle cx="1505.00" cy="329.60" r="4.75" fill="#A3A500"/>
<circle cx="1541.20" cy="358.00" r="4.75" fill="#A3A500"/>
<circle cx="1468.80" cy="303.00" r="4.75" fill="#00BF7D"/>
<circle cx="1505.00" cy="303.00" r="4.75" fill="#00BF7D"/>
<circle cx="1541.20" cy="310.40" r="4.75" fill="#00BF7D"/>
<circle cx="1468.80" cy="377.00" r="4.75" fill="#00B0F6"/>
<circle cx="1505.00" cy="366.80" r="4.75" fill="#00B0F6"/>
<circle cx="1541.20" cy="371.70" r="4.75" fill="#00B0F6"/>
<rect x="1447.00" y="-2" width="115.9" height="36.9" fill="#D9D9D9"/>
<text x="1504.95" y="23.9" font-size="17.6" class="s" fill="#1A1A1A" text-anchor="middle">AllDatasets</text>
</g>
<text x="45.9" y="67.96" font-size="17.6" class="g" fill="#4D4D4D" text-anchor="end">90</text>
<line x1="49.90" x2="55.90" y1="61.06" y2="61.06" stroke="#333" stroke-width="2.3"/>
<text x="45.9" y="205.23" font-size="17.6" class="g" fill="#4D4D4D" text-anchor="end">80</text>
<line x1="49.90" x2="55.90" y1="198.33" y2="198.33" stroke="#333" stroke-width="2.3"/>
<text x="45.9" y="342.50" font-size="17.6" class="g" fill="#4D4D4D" text-anchor="end">70</text>
<line x1="49.90" x2="55.90" y1="335.60" y2="335.60" stroke="#333" stroke-width="2.3"/>
<text x="45.9" y="479.77" font-size="17.6" class="g" fill="#4D4D4D" text-anchor="end">60</text>
<line x1="49.90" x2="55.90" y1="472.87" y2="472.87" stroke="#333" stroke-width="2.3"/>
<text x="809.2" y="635.9" font-size="21.4" class="k" fill="#000" text-anchor="middle">Feature Selection</text>
<text transform="translate(16.2,311.6) rotate(-90)" font-size="21.65" class="k" fill="#000" text-anchor="middle">Balanced Accuracy</text>
<text x="1594.9" y="228.7" font-size="21.4" class="k" fill="#000">feature</text>
<rect x="1595.1" y="242.75" width="33.8" height="169.00" fill="#F2F2F2"/>
<line x1="1598.48" x2="1625.52" y1="259.65" y2="259.65" stroke="#F8766D" stroke-width="4.45"/>
<circle cx="1612.00" cy="259.65" r="4.75" fill="#F8766D"/>
<text x="1639.6" y="265.95" font-size="17.6" class="k" fill="#000">FCB</text>
<line x1="1598.48" x2="1625.52" y1="293.45" y2="293.45" stroke="#A3A500" stroke-width="4.45"/>
<circle cx="1612.00" cy="293.45" r="4.75" fill="#A3A500"/>
<text x="1639.6" y="299.75" font-size="17.6" class="k" fill="#000">xDAWN</text>
<line x1="1598.48" x2="1625.52" y1="327.25" y2="327.25" stroke="#00BF7D" stroke-width="4.45"/>
<circle cx="1612.00" cy="327.25" r="4.75" fill="#00BF7D"/>
<text x="1639.6" y="333.55" font-size="17.6" class="k" fill="#000">Overlap</text>
<line x1="1598.48" x2="1625.52" y1="361.05" y2="361.05" stroke="#00B0F6" stroke-width="4.45"/>
<circle cx="1612.00" cy="361.05" r="4.75" fill="#00B0F6"/>
<text x="1639.6" y="367.35" font-size="17.6" class="k" fill="#000">FCzCz</text>
<line x1="1598.48" x2="1625.52" y1="394.85" y2="394.85" stroke="#E76BF3" stroke-width="4.45"/>
<circle cx="1612.00" cy="394.85" r="4.75" fill="#E76BF3"/>
<text x="1639.6" y="401.15" font-size="17.6" class="k" fill="#000">Timepoints</text>
</svg></body></html>
